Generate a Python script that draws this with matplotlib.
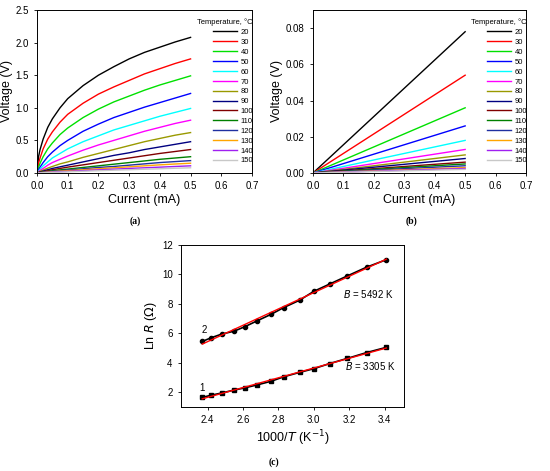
import numpy as np
import matplotlib
matplotlib.use("Agg")
import matplotlib.pyplot as plt

plt.rcParams['font.family'] = ['Liberation Sans', 'DejaVu Sans']

temps = [20, 30, 40, 50, 60, 70, 80, 90, 100, 110, 120, 130, 140, 150]
colors = ['black', 'red', '#00e000', 'blue', 'cyan', 'magenta', '#999900', '#000080',
          '#800000', '#008000', '#2030a0', 'orange', '#a020f0', '#c8c8c8']
current_a = [0, 0.005, 0.01, 0.02, 0.035, 0.05, 0.075, 0.1, 0.15, 0.2, 0.25, 0.3, 0.35, 0.4, 0.45, 0.5]
volt_a = [
    [0, 0.25, 0.36, 0.52, 0.70, 0.83, 1.00, 1.14, 1.34, 1.50, 1.63, 1.75, 1.85, 1.93, 2.01, 2.08],
    [0, 0.15, 0.23, 0.37, 0.52, 0.63, 0.78, 0.90, 1.07, 1.21, 1.32, 1.42, 1.52, 1.60, 1.68, 1.75],
    [0, 0.09, 0.15, 0.25, 0.37, 0.46, 0.59, 0.69, 0.85, 0.98, 1.09, 1.18, 1.27, 1.35, 1.42, 1.49],
    [0, 0.05, 0.09, 0.16, 0.25, 0.32, 0.42, 0.50, 0.64, 0.75, 0.85, 0.93, 1.01, 1.08, 1.15, 1.22],
    [0, 0.03, 0.06, 0.11, 0.17, 0.23, 0.30, 0.37, 0.48, 0.57, 0.66, 0.73, 0.80, 0.87, 0.93, 0.99],
    [0, 0.02, 0.04, 0.07, 0.12, 0.16, 0.21, 0.26, 0.35, 0.43, 0.50, 0.57, 0.64, 0.70, 0.76, 0.81],
    [0, 0.012, 0.025, 0.045, 0.075, 0.10, 0.14, 0.17, 0.24, 0.30, 0.36, 0.42, 0.48, 0.53, 0.58, 0.62],
    [0, 0.008, 0.015, 0.03, 0.05, 0.07, 0.095, 0.12, 0.17, 0.22, 0.27, 0.31, 0.36, 0.40, 0.44, 0.48],
    [0, 0.005, 0.01, 0.02, 0.035, 0.05, 0.07, 0.09, 0.125, 0.16, 0.195, 0.23, 0.265, 0.30, 0.33, 0.36],
    [0, 0.003, 0.007, 0.014, 0.024, 0.035, 0.048, 0.06, 0.085, 0.11, 0.135, 0.16, 0.185, 0.21, 0.23, 0.25],
    [0, 0.002, 0.005, 0.01, 0.018, 0.025, 0.035, 0.045, 0.065, 0.085, 0.10, 0.12, 0.14, 0.16, 0.175, 0.19],
    [0, 0.002, 0.004, 0.008, 0.014, 0.02, 0.028, 0.035, 0.05, 0.065, 0.08, 0.095, 0.11, 0.125, 0.138, 0.15],
    [0, 0.001, 0.003, 0.006, 0.01, 0.015, 0.02, 0.025, 0.037, 0.048, 0.059, 0.07, 0.08, 0.09, 0.10, 0.11],
    [0, 0.001, 0.002, 0.004, 0.007, 0.01, 0.014, 0.018, 0.027, 0.035, 0.043, 0.05, 0.058, 0.065, 0.073, 0.08],
]
current_b = [0, 0.5]
volt_b_end = [0.078, 0.054, 0.036, 0.026, 0.018, 0.013, 0.010, 0.008, 0.006,
              0.005, 0.004, 0.003, 0.0025, 0.002]

invT = [2.37, 2.42, 2.48, 2.55, 2.61, 2.68, 2.76, 2.83, 2.92, 3.0, 3.09, 3.19, 3.3, 3.41]
lnR2 = [5.45, 5.7, 5.95, 6.15, 6.45, 6.85, 7.3, 7.75, 8.25, 8.85, 9.35, 9.9, 10.5, 11.0]
lnR1 = [1.65, 1.8, 1.95, 2.15, 2.3, 2.5, 2.75, 3.05, 3.35, 3.6, 3.95, 4.3, 4.7, 5.05]

fig = plt.figure(figsize=(5.5, 4.71), dpi=100)
W, H = 550, 471
def ax_at(x0, y0, x1, y1):
    return fig.add_axes([x0 / W, 1 - y1 / H, (x1 - x0) / W, (y1 - y0) / H])

def style(ax):
    ax.tick_params(labelsize=7, length=2.5, width=0.6)
    for s in ax.spines.values():
        s.set_linewidth(0.7)

axa = ax_at(37, 10, 252, 173)
for t, c, v in zip(temps, colors, volt_a):
    axa.plot(current_a, v, color=c, lw=1.0, label=str(t))
axa.set_xlim(0, 0.7); axa.set_ylim(0, 2.5)
axa.set_xticks(np.arange(0, 0.71, 0.1)); axa.set_yticks(np.arange(0, 2.51, 0.5))
axa.set_xlabel('Current (mA)', fontsize=9, labelpad=2)
axa.set_ylabel('Voltage (V)', fontsize=9, labelpad=2)
style(axa)

axb = ax_at(313, 10, 526, 173)
for t, c, v in zip(temps, colors, volt_b_end):
    axb.plot(current_b, [0, v], color=c, lw=1.0, label=str(t))
axb.set_xlim(0, 0.7); axb.set_ylim(0, 0.09)
axb.set_xticks(np.arange(0, 0.71, 0.1)); axb.set_yticks([0, 0.02, 0.04, 0.06, 0.08])
axb.set_yticklabels(['0.00', '0.02', '0.04', '0.06', '0.08'])
axb.set_xlabel('Current (mA)', fontsize=9, labelpad=2)
axb.set_ylabel('Voltage (V)', fontsize=9, labelpad=2)
style(axb)

for ax in (axa, axb):
    leg = ax.legend(title='Temperature, °C', loc='upper right', bbox_to_anchor=(1.03, 0.98),
                    frameon=False, fontsize=5.5, title_fontsize=5.5, handlelength=3.2,
                    labelspacing=0.33, handletextpad=0.4, borderpad=0.2)
    leg._legend_box.align = 'right'

axc = ax_at(181, 245, 404, 407)
for y, mk in ((lnR2, 'o'), (lnR1, 's')):
    axc.plot(invT, y, color='black', marker=mk, ms=3, lw=1.2)
    p = np.polyfit(invT, y, 1)
    xx = np.array([invT[0], invT[-1]])
    axc.plot(xx, np.polyval(p, xx), color='red', lw=1.0)
axc.set_xlim(2.25, 3.51); axc.set_ylim(1, 12)
axc.set_xticks(np.arange(2.4, 3.41, 0.2)); axc.set_yticks([2, 4, 6, 8, 10, 12])
axc.set_xlabel('1000/$T$ (K$^{-1}$)', fontsize=9, labelpad=2)
axc.set_ylabel('Ln $R$ ($\\Omega$)', fontsize=9, labelpad=2)
axc.text(3.31, 8.7, '$B$ = 5492 K', fontsize=7, ha='center', va='center')
axc.text(3.32, 3.75, '$B$ = 3305 K', fontsize=7, ha='center', va='center')
axc.text(2.38, 6.0, '2', fontsize=7, ha='center')
axc.text(2.37, 2.1, '1', fontsize=7, ha='center')
style(axc)

for x, y, s in ((135, 221, '(a)'), (412, 221, '(b)'), (274, 462, '(c)')):
    fig.text(x / W, 1 - y / H, s, ha='center', va='center', fontsize=7,
             fontweight='bold', family='Liberation Serif')

fig.savefig('out.png', dpi=100)
